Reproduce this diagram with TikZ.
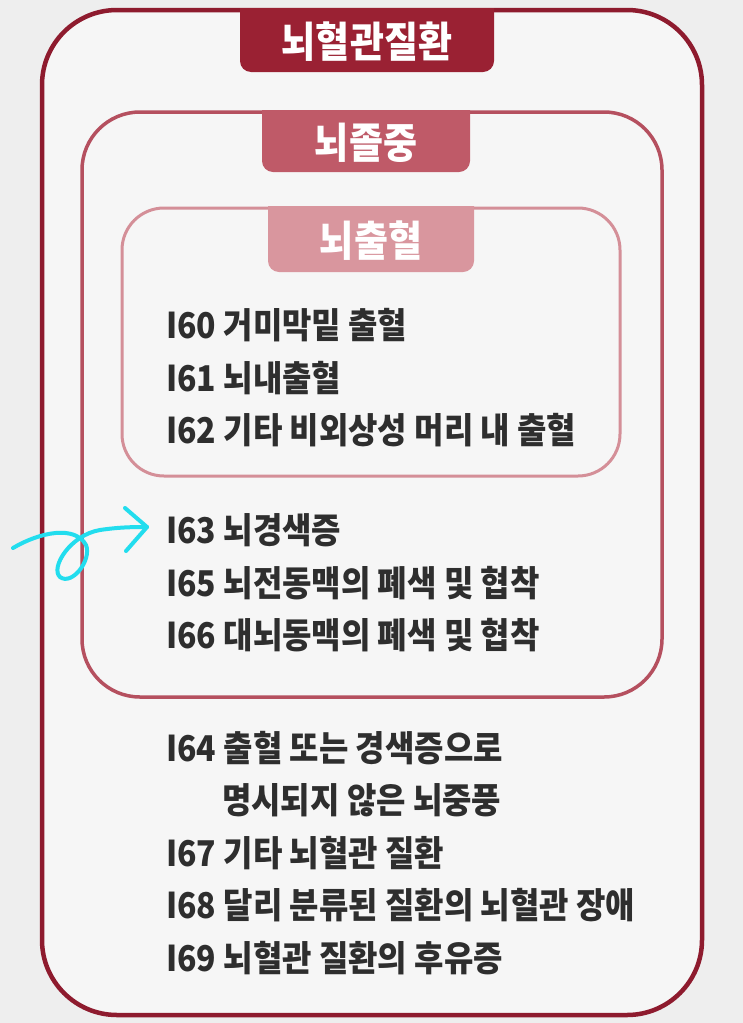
\documentclass[tikz,border=0pt]{standalone}
\usepackage{fontspec}
\setmainfont{Noto Sans CJK KR}
\newfontfamily\krc{Noto Sans CJK KR}[FakeStretch=0.9]
\newfontfamily\krt{Noto Sans CJK KR}[FakeStretch=0.88]
\definecolor{bgc}{HTML}{EEEEEE}
\definecolor{boxfill}{HTML}{F6F6F6}
\definecolor{ca}{HTML}{8E1B2E}
\definecolor{ta}{HTML}{9A2133}
\definecolor{cb}{HTML}{B5505F}
\definecolor{tb}{HTML}{BF5A68}
\definecolor{cc}{HTML}{D48F98}
\definecolor{tc}{HTML}{D9969E}
\definecolor{txt}{HTML}{2E2E2E}
\definecolor{pen}{HTML}{22DDEE}
\tikzset{
  body/.style={anchor=west, text=txt, font=\krc\fontsize{35.5}{40}\selectfont\bfseries, inner sep=0pt},
  tabtext/.style={text=white, font=\krt\fontsize{42}{46}\selectfont\bfseries, inner sep=0pt},
  penline/.style={pen, line width=4pt, line cap=round, line join=round}
}
\begin{document}
\begin{tikzpicture}[x=1pt,y=-1pt]
\useasboundingbox (0,0) rectangle (743,1023);
\fill[bgc] (0,0) rectangle (743,1023);
% boxes
\draw[ca, line width=4.5pt, fill=boxfill, rounded corners=75pt] (42,10) rectangle (702,1015);
\draw[cb, line width=3.5pt, rounded corners=58pt] (82,112) rectangle (662,697);
\draw[cc, line width=3pt, rounded corners=42pt] (122,208) rectangle (620,476);
% tabs
\begin{scope}
\clip (240,8) rectangle (494,72);
\fill[ta, rounded corners=11pt] (240,-20) rectangle (494,72);
\end{scope}
\node[tabtext] (t1) at (367,42) {뇌혈관질환};
\begin{scope}
\clip (262,110) rectangle (470,172);
\fill[tb, rounded corners=11pt] (262,80) rectangle (470,172);
\end{scope}
\node[tabtext] (t2) at (366,143) {뇌졸중};
\begin{scope}
\clip (268,206) rectangle (474,272);
\fill[tc, rounded corners=11pt] (268,180) rectangle (474,272);
\end{scope}
\node[tabtext] (t3) at (371,241) {뇌출혈};
% texts
\node[body] (l60) at (166,325) {I60 거미막밑 출혈};
\node[body] (l61) at (166,378) {I61 뇌내출혈};
\node[body] (l62) at (166,430) {I62 기타 비외상성 머리 내 출혈};
\node[body] (l63) at (166,530) {I63 뇌경색증};
\node[body] (l65) at (166,583) {I65 뇌전동맥의 폐색 및 협착};
\node[body] (l66) at (166,635) {I66 대뇌동맥의 폐색 및 협착};
\node[body] (l64) at (166,748) {I64 출혈 또는 경색증으로};
\node[body] (l64b) at (222,800) {명시되지 않은 뇌중풍};
\node[body] (l67) at (166,853) {I67 기타 뇌혈관 질환};
\node[body] (l68) at (166,905) {I68 달리 분류된 질환의 뇌혈관 장애};
\node[body] (l69) at (166,958) {I69 뇌혈관 질환의 후유증};
% hand-drawn arrow
\coordinate (a0) at (13,548);
\coordinate (tip) at (147,527);
\coordinate (hu) at (125,508);
\coordinate (hd) at (126,551);
\draw[penline] (a0) .. controls (40,532) and (75,525) .. (86,545)
  .. controls (92,560) and (72,586) .. (60,577)
  .. controls (50,568) and (70,535) .. (100,530)
  .. controls (120,527) and (135,527) .. (tip);
\draw[penline] (hu) -- (tip) -- (hd);
\end{tikzpicture}
\end{document}
